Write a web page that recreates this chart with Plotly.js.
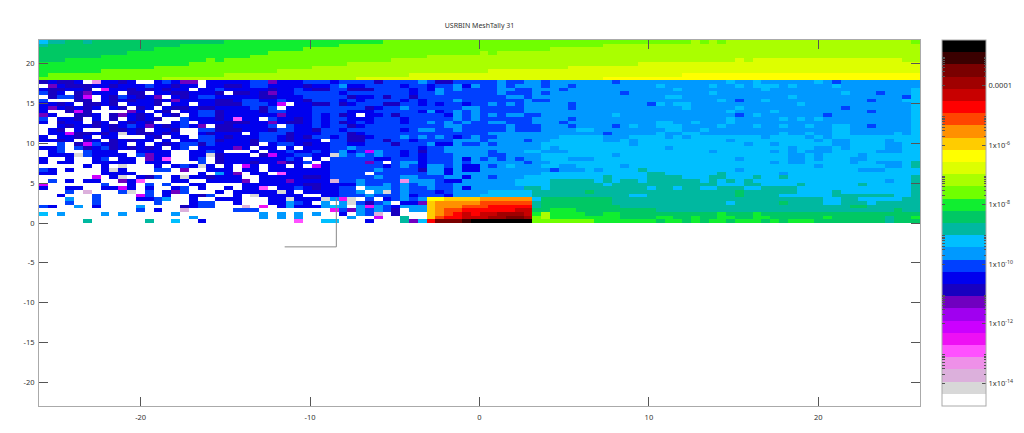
<!DOCTYPE html>
<html><head><meta charset="utf-8">
<script src="https://cdn.plot.ly/plotly-3.0.1.min.js"></script>
<style>html,body{margin:0;padding:0;background:#fff}#c{width:1024px;height:433px}</style>
</head><body><div id="c"></div><script>
// band letters, lowest to highest; '.' is an empty (white) mesh cell
const bandLetters = ".gpqmnvuwDBNLCTEGHIJYOPQRSUVWX";
const bandColors = ["#ffffff","#d8d8d8","#dcb0dc","#ee90e8","#ff50ff","#ee10f4","#cc00ff","#a000f0","#7000c0","#1800c0","#0000ee","#0040ff","#0099ff","#00bfff","#00b8a0","#00c864","#10ee30","#70ff00","#aaff00","#ddff00","#ffff00","#ffcc00","#ff9000","#ff4500","#ff0000","#c80000","#a00000","#7a0000","#3a0000","#000000"];
const colorTickVals = [-4,-6,-8,-10,-12,-14];
const colorTickText = ["0.0001","1x10<sup>-6</sup>","1x10<sup>-8</sup>","1x10<sup>-10</sup>","1x10<sup>-12</sup>","1x10<sup>-14</sup>"];
const yTicks = [-20,-15,-10,-5,0,5,10,15,20];
const xTicks = [-20,-10,0,10,20];
const outlineX = [-11.5,-8.45,-8.45];
const outlineY = [-3,-3,3.2];

// rows listed top to bottom. Top band: "letter + last column of that run", columns 0..99
const topBandRuns = [
"C0 T2 E4 T5 E20 G38 H73 I74 H75 I76 H77 I98 H99",
"T0 E15 G33 H63 I99",
"E12 G29 H57 I99",
"E9 G25 H49 I50 H51 I99",
"E6 G23 H43 I99",
"E2 G18 H19 G20 H39 I78 J79 I80 J97 I99",
"G16 H34 I67 J99",
"G12 H30 I59 J99",
"G6 H26 I50 J99",
"G0 H20 I41 J72 Y99",
"H13 I35 J63 Y99"];

// below the band: columns 0..16
const colsA = [
"DBDDB.qBBDB..BNBw",".wBDDDBBDBBBNBBDB","BDDBBD.nBBDBDBDBB","NDB.DwBBB.DD.BBDD",".DNNDv.BDNBDBw.BD",
"N...DD.BDBDBBDBwB","BBDB.DDBD.BBBD.BB","BwBDBDB.BD.DB.BDD","B..DvD....wB.BD.B","wB..DDB.DwBDB.BD.",
"N.BBD.B.D.BDBD..N","B.DBB.DB.BDBD..BN","..BDBBDBDBNBwBDBN",".BD.B..BDDBD.BBD.",".BBvDDBDBgBDDBDB.",
"B.BBDB.BB...BD.BB","BBDB.DB.DBDBB.B.B","..N.DvNBDB.B.BDBN","BBN.NDBNDBDBDB.BN",".BN..NBBB..BBBB..",
".BBBgNBBBB.NwBB..","B..B..BN.BB.wBm..","B.BB..BBBBB.BBB..",".....B.B.g...B.BN","NB.B...BgB...NN.w",
"BB.....BBBB......","......v.Bg.BDN.Bg",".N.B.BB..wBm...BB","v......N..B.N.N..","B..BB..BBvB.B..BN",
"...N.p...Ng.N.BwN","..B...N....vN.B..","...L..N....BBNL..","...N..N......N...","NB..L.B....L....D",
"...........N.B..p","C.L....L.L.....L.",".................",".....T......T..C."];
// columns 17..33
const colsB = [
"w.BBBBBNNwBBBNNNB","B.BBDDBNNBBBBDBBN",".BBNBBBBBDBBNBDDN","BBBD.DDBDwBBNNNNN","BNNBBBBBDDBBBNNNN",
"BBBDDBNNBBNBBDNNN",".BBDDDNNNBv.BBDDN","BDDBBBBNDN.BBBNNN","BNNDBBBBDNNBBBNNN","BNNDBBBBBBwBBBNBN",
"BBBDBmBB.NBBDBNBN",".BBBDDDBBwBDDBNBN","Bw.DDBBBBN.NBBNBN",".NNDDDBBBDNNBBDNN",".BDBBB.BNNNDBBBNN",
".NNBDBBBNNBDBDNNB","BNNDBBBDNNBDBBB.N","NDNBBBBD.BNNBDBBN",".BBBBwB.BB.B.BBBN","BBNB...B.BBNBBNBN",
"BBgDBBB.DvBBNNBBg","BN.DBBBBBBBNB.B.N",".N.DBBBDBBwDBN.BN","BgB.B.vB.BB.B.vBN","..BBB.BB.BBBBBBBN",
".B.LBw.BB.mBBBBBN","BBDBBB..BBBBBDDBN","..BBBBw.BBBwBBBBp","BB....BBBBBBBDDBB",".B..B.BBm.BBNBDBB",
"...B.BBBBBgB.BBBB","BDN..B.gBBBBB..BB","B..BBB...BBgBBBgL","BNN..B...BBLNB.L.","BNN...p.n.BLBBBLC",
".....NNN........n","........L.L.L.L..","L.......L.L.L....",".B..........m..CC"];
// columns 34..49
const colsC = [
"NNNNDNNNNLNDDNNN","LBBNNNNBNNBNNLBL","NDDDNNNNBNBLNLNN","BNNNNNNNBNNLNNNN","NDBBNDNNDNNNNNNN",
"BNBNNNNBNBNNNLNN","DBNNNDDNNBNBNNBN","NNNDBNNLNNNNNNLL","NBBBNNNNNBLBNLNL","DB.BBNDNNNNNBLNL",
"NBBBNNNBNNNNNLNL","DBNBNNNBNNLNLNLN","NDBNNNNNNNNNLLNN","BNNNNNNBNLLNNLNN","NDBNNNNNNNNNNNNN",
"NDDBNNNLNLNLNBNL","NDDNNDNNBNNNNLLL","NBBNNNDNNNLBBLNN","NLNNNNNNNBNNLLLL","LBNvLNNBNDNNLLLL",
"LNLNLNNBNBNNNLLL","NNNNBBNNNBNNNLBL","NNNwN.NLLBNNNLNL","NNNNNBNLNBLLNLBB","NNNNLNNNNDLLBLBB",
"NNN.NNNNNNLLBLLL","NNNNLNNLLNNNLLBL","NNLNNNNqLLLNBBLL","BBLNNLNLNLLNNLLL","NN.LLLNLNNLNNLBL",
"NNL.LgNLNNNBNLLL","NNNLNNNLBNNNBLLL","ng.N.BNLNLYYOOOO","LgNDNL.BBwOPPPPP","L.LnLNBLLLOPPPQQ",
"NwLNLND.LLOPQQRR","B.LNp.D...OPQRSR",".L..v..T..OQRRSS","...B...TwCRVVVWX"];
// columns 50..99, as runs: letter + last offset of that run
const colsDRuns = [
"N1 L2 N4 L6 N7 L14 N15 L27 C28 L30 C31 L37 C38 L39 N40 L49",
"N1 L2 N3 L6 N7 L9 N10 L19 C20 L25 C26 L28 C29 L30 C33 L34 C35 L39 C40 L49",
"N1 L3 N5 L8 N9 L21 C22 L31 C32 L48 C49",
"N1 L2 N5 L6 N7 L15 N16 L25 C26 L40 C41 L44 N45 L48 C49",
"N2 L4 N5 L20 C22 L34 C35 L47 N48 C49",
"N4 L5 N7 L26 C27 L28 N29 L31 C32 L43 N44 L47 C49",
"N0 L1 N2 L3 N4 L9 N10 L18 N19 C20 L21 C23 L35 C36 L48 C49",
"N4 L9 N10 L22 C23 L28 C29 L40 N41 L48 C49",
"N4 L27 C28 L32 C33 L43 N44 L48 C49",
"N0 L1 N2 L4 N6 L14 C15 L28 N29 L30 C31 L38 N39 L48 C49",
"N5 L9 N10 L27 C28 L33 C34 L35 C36 L37 C38 L48 C49",
"N0 L2 N5 L8 N9 L19 C21 L23 C24 L27 C28 L48 C49",
"N2 L3 N6 L9 N10 L14 N15 L16 C17 L19 C22 L26 C27 L30 C31 L33 C34 L36 C37 L39 C41 L43 N44 L48 C49",
"N2 L3 N6 L10 C12 L20 C22 L24 C25 L39 C41 L48 C49",
"N0 L13 N14 L19 C20 L22 C24 L33 C34 L36 C37 L39 C41 L46 C47 L48 C49",
"N1 L8 C13 L16 C20 L21 C22 L23 C31 L32 C36 L37 C38 L39 C49",
"N0 L4 N5 L7 C13 L15 C16 L17 C27 L28 C37 L38 C39 L41 C45 L46 C49",
"L0 N1 L6 C16 L17 C29 L30 C32 L33 C39 L41 C45 L47 C49",
"L6 C7 L8 C20 L21 C34 L35 C37 L39 C40 L41 C45 L47 C49",
"L0 N1 L4 C6 L9 C25 L26 C32 L33 C34 L35 C36 L39 C44 L47 C49",
"L0 N2 L6 C14 L15 C34 L36 C37 L38 C42 L43 C49",
"N0 L1 N2 L3 N4 L6 C9 L12 C28 L29 C34 L36 C37 L38 C41 L43 C49",
"L4 N5 L7 C32 L33 C34 L36 C41 L42 C44 L47 C48 T49",
"L0 N1 L2 C3 L6 C8 L10 C15 L16 C37 L38 C45 L47 C48 T49",
"L7 N8 L11 C12 L13 C17 T18 C28 L29 C42 L45 C49",
"L6 C18 T20 C26 T27 C33 L34 C49",
"L0 N1 L4 C13 T14 C18 T22 C25 T27 C30 T31 C33 T34 C48 T49",
"L3 C7 T12 C13 T14 C15 T17 C18 T24 C25 T26 C27 T28 C29 T30 C45 L46 C48 T49",
"L3 C7 T13 C14 T26 C29 T31 C35 T36 C42 T43 C48 T49",
"L4 T6 C7 T18 C19 T21 C22 T24 C26 T29 C31 T35 C48 T49",
"L0 C5 T11 E12 T28 E29 T35 C39 T40 C48 T49",
"C5 T16 C18 T28 E29 T33 C39 T46 C48 T49",
"P5 C6 E14 T38 C40 T42 C47 T49",
"Q5 T6 E14 T27 C28 T33 E34 T38 C40 T43 C44 T49",
"Q0 R5 T6 E15 T41 E43 T49",
"R3 S5 E7 G10 E19 T46 E47 T49",
"S1 U4 S5 G6 I7 G11 E13 G15 E26 G27 E30 G31 E49",
"S0 U2 V4 U5 H6 I7 G15 E19 G21 E23 G24 E26 G28 E30 G32 E38 G39 E45 T46 E48 G49",
"X5 H12 G19 E20 G22 E23 G24 E25 G27 E28 G31 E32 G33 E34 G37 E45 T46 E49"];

// mesh and colour-scale geometry
const meshX0 = -26, meshDX = 0.52, meshY0 = 0, meshDY = 0.46;
const logMin = -14.77, logMax = -2.47;

function expand(runs){ let s="", pos=0;
  runs.split(" ").forEach(t=>{const end=+t.slice(1); s+=t[0].repeat(end-pos+1); pos=end+1;});
  return s; }
const rowsTopDown = topBandRuns.map(expand).concat(
  colsA.map((a,i)=>a+colsB[i]+colsC[i]+expand(colsDRuns[i])));
const nBands = bandLetters.length, bandW = (logMax-logMin)/nBands;
const z = rowsTopDown.slice().reverse().map(r=>r.split("").map(ch=>{
  const i = bandLetters.indexOf(ch);
  return ch==="." ? null : logMin+bandW*(i+0.5);
}));
const colorscale=[];
bandColors.forEach((c,i)=>{colorscale.push([i/nBands,c]);colorscale.push([(i+1)/nBands,c]);});
const clearScale=[[0,"rgba(0,0,0,0)"],[1,"rgba(0,0,0,0)"]];

const minorVals=[];
[-14,-12,-10,-8,-6,-4].forEach(v=>{[0.301,0.477,0.602,0.699,0.778,0.845,0.903,0.954].forEach(m=>{
  if(v+m<logMax) minorVals.push(v+m);
  if(v-2+m>logMin) minorVals.push(v-2+m);
});});

const tickFont={family:'"Noto Sans",sans-serif',size:7.5,color:"#333"};
const titleFont={family:'"Noto Sans",sans-serif',size:7,color:"#333"};
const axis={showgrid:false,zeroline:false,ticks:"inside",ticklen:9,tickwidth:1,tickcolor:"#555",
  showline:true,linecolor:"#aaa",linewidth:1,mirror:"ticks",tickfont:tickFont,layer:"above traces"};
const barBase={xref:"container",xanchor:"left",y:0.5,yanchor:"middle",len:1,lenmode:"fraction",
  thicknessmode:"pixels",xpad:0,ypad:0,tickwidth:1,tickcolor:"#555",tickmode:"array"};
function tickOnlyBar(extra){
  return {type:"heatmap",z:[[logMin,logMax]],x:[-26,-25.5],y:[-23],zmin:logMin,zmax:logMax,colorscale:clearScale,
    hoverinfo:"skip",colorbar:Object.assign({},barBase,{outlinewidth:0,showticklabels:false},extra)};
}

Plotly.newPlot("c",[
 {type:"heatmap",z:z,x0:meshX0+meshDX/2,dx:meshDX,y0:meshY0+meshDY/2,dy:meshDY,
  zmin:logMin,zmax:logMax,colorscale:colorscale,hoverinfo:"skip",
  colorbar:Object.assign({},barBase,{x:942/1024,thickness:44,outlinecolor:"#aaa",outlinewidth:1,
    ticks:"inside",ticklen:4,tickvals:colorTickVals,ticktext:colorTickText,tickfont:tickFont})},
 tickOnlyBar({x:942/1024,thickness:44,ticks:"inside",ticklen:2,tickvals:minorVals}),
 tickOnlyBar({x:941/1024,thickness:1,ticks:"outside",ticklen:3,tickvals:colorTickVals.concat(minorVals)}),
 {type:"scatter",mode:"lines",x:outlineX,y:outlineY,line:{color:"#888",width:1},hoverinfo:"skip",showlegend:false}
],{
 width:1024,height:433,paper_bgcolor:"#fff",plot_bgcolor:"#fff",showlegend:false,
 margin:{l:39,r:104,t:40,b:27,pad:0},
 title:{text:"USRBIN MeshTally 31",x:0.5,xref:"paper",xanchor:"center",y:0.942,yref:"container",yanchor:"middle",font:titleFont},
 xaxis:Object.assign({},axis,{range:[-26,26],tickmode:"array",tickvals:xTicks,ticktext:xTicks.map(String),ticklabelstandoff:4}),
 yaxis:Object.assign({},axis,{range:[-23,23],tickmode:"array",tickvals:yTicks,ticktext:yTicks.map(String),ticklabelstandoff:2})
},{displayModeBar:false,staticPlot:true});
</script></body></html>
